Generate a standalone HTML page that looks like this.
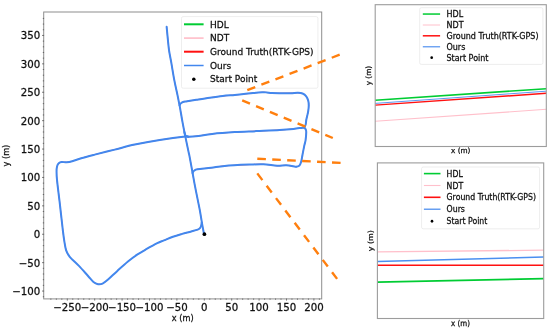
<!DOCTYPE html><html><head><meta charset="utf-8"><title>Trajectory comparison</title>
<style>html,body{margin:0;padding:0;background:#fff}svg{display:block}text{font-family:"DejaVu Sans","Liberation Sans",sans-serif;fill:#111;stroke:#111;stroke-width:0.26px}</style></head><body>
<svg width="550" height="329" viewBox="0 0 550 329">
<rect width="550" height="329" fill="#fff"/>
<g font-size="10.2px" text-anchor="middle">
<text x="67.30" y="310.7">−250</text>
<text x="94.70" y="310.7">−200</text>
<text x="122.10" y="310.7">−150</text>
<text x="149.50" y="310.7">−100</text>
<text x="176.90" y="310.7">−50</text>
<text x="204.30" y="310.7">0</text>
<text x="231.70" y="310.7">50</text>
<text x="259.10" y="310.7">100</text>
<text x="286.50" y="310.7">150</text>
<text x="313.90" y="310.7">200</text>
</g><g font-size="10.2px" text-anchor="end">
<text x="40.3" y="294.95">−100</text>
<text x="40.3" y="266.55">−50</text>
<text x="40.3" y="238.15">0</text>
<text x="40.3" y="209.75">50</text>
<text x="40.3" y="181.35">100</text>
<text x="40.3" y="152.95">150</text>
<text x="40.3" y="124.55">200</text>
<text x="40.3" y="96.15">250</text>
<text x="40.3" y="67.75">300</text>
<text x="40.3" y="39.35">350</text>
</g>
<text x="182.7" y="320.7" font-size="8.2px" text-anchor="middle">x (m)</text>
<text transform="translate(9.3 155.6) rotate(-90)" font-size="8.2px" text-anchor="middle">y (m)</text>
<g fill="none" stroke="#ff1010" stroke-width="0.8" stroke-linejoin="round" stroke-linecap="round" transform="translate(-0.25 0.4)">
<path d="M166.90 26.40 C167.08 28.33 167.60 34.07 168.00 38.00 C168.40 41.93 168.72 46.00 169.30 50.00 C169.88 54.00 170.62 57.00 171.50 62.00 C172.38 67.00 173.55 74.50 174.60 80.00 C175.65 85.50 176.97 90.98 177.80 95.00 C178.63 99.02 179.15 101.82 179.60 104.10 C180.05 106.38 179.97 105.72 180.50 108.70 C181.03 111.68 181.97 117.50 182.80 122.00 C183.63 126.50 184.48 130.70 185.50 135.70 C186.52 140.70 188.22 148.78 188.90 152.00 C189.58 155.22 188.95 151.62 189.60 155.00 C190.25 158.38 191.88 167.30 192.80 172.30 C193.72 177.30 194.22 180.38 195.10 185.00 C195.98 189.62 197.27 195.83 198.10 200.00 C198.93 204.17 199.38 206.05 200.10 210.00 C200.82 213.95 201.72 219.82 202.40 223.70 C203.08 227.58 203.90 231.70 204.20 233.30"/>
<path d="M179.90 105.00 C180.05 104.70 180.23 103.77 180.80 103.20 C181.37 102.63 182.20 101.98 183.30 101.60 C184.40 101.22 185.20 101.27 187.40 100.90 C189.60 100.53 192.73 100.00 196.50 99.40 C200.27 98.80 205.58 97.93 210.00 97.30 C214.42 96.67 218.83 96.05 223.00 95.60 C227.17 95.15 231.48 94.92 235.00 94.60 C238.52 94.28 241.07 94.03 244.10 93.70 C247.13 93.37 250.15 92.90 253.20 92.60 C256.25 92.30 260.12 92.00 262.40 91.90 C264.68 91.80 265.30 91.87 266.90 92.00 C268.50 92.13 269.82 92.56 272.00 92.70 C274.18 92.84 276.85 92.84 280.00 92.85 C283.15 92.86 287.87 92.83 290.90 92.75 C293.93 92.67 296.22 92.34 298.20 92.40 C300.18 92.46 301.42 92.52 302.80 93.10 C304.18 93.68 305.55 94.68 306.50 95.90 C307.45 97.12 308.08 98.88 308.50 100.40 C308.92 101.92 309.00 103.32 309.00 105.00 C309.00 106.68 308.70 109.00 308.50 110.50 C308.30 112.00 308.12 112.57 307.80 114.00 C307.48 115.43 306.90 117.48 306.60 119.10 C306.30 120.72 306.23 122.55 306.00 123.70 C305.77 124.85 305.62 125.42 305.20 126.00 C304.78 126.58 303.78 127.00 303.50 127.20"/>
<path d="M192.80 172.60 C192.85 172.48 192.80 172.32 193.10 171.90 C193.40 171.48 193.82 170.62 194.60 170.10 C195.38 169.58 194.98 169.25 197.80 168.80 C200.62 168.35 206.97 167.95 211.50 167.40 C216.03 166.85 218.58 166.03 225.00 165.50 C231.42 164.97 243.55 164.47 250.00 164.20 C256.45 163.93 259.13 163.70 263.70 163.90 C268.27 164.10 273.60 165.23 277.40 165.40 C281.20 165.57 283.47 164.75 286.50 164.90 C289.53 165.05 293.88 166.07 295.60 166.30 C297.32 166.53 296.13 166.48 296.80 166.30 C297.47 166.12 298.83 166.02 299.60 165.20 C300.37 164.38 300.87 163.25 301.40 161.40 C301.93 159.55 302.27 156.83 302.80 154.10 C303.33 151.37 304.10 147.35 304.60 145.00 C305.10 142.65 305.48 142.18 305.80 140.00 C306.12 137.82 306.47 133.70 306.50 131.90 C306.53 130.10 306.28 129.95 306.00 129.20 C305.72 128.45 305.33 127.72 304.80 127.40 C304.27 127.08 304.65 127.12 302.80 127.30 C300.95 127.48 297.50 128.12 293.70 128.50 C289.90 128.88 286.12 129.23 280.00 129.60 C273.88 129.97 264.50 130.35 257.00 130.70 C249.50 131.05 242.43 131.23 235.00 131.70 C227.57 132.17 218.45 132.87 212.40 133.50 C206.35 134.13 202.65 135.02 198.70 135.50 C194.75 135.98 190.90 136.30 188.70 136.40 C186.50 136.50 190.28 135.57 185.50 136.10 C180.72 136.63 168.42 138.25 160.00 139.60 C151.58 140.95 142.50 142.60 135.00 144.20 C127.50 145.80 121.67 147.53 115.00 149.20 C108.33 150.87 100.58 152.77 95.00 154.20 C89.42 155.63 85.27 156.68 81.50 157.80 C77.73 158.92 74.83 160.22 72.40 160.90 C69.97 161.58 68.65 161.78 66.90 161.90 C65.15 162.02 63.22 161.43 61.90 161.60 C60.58 161.77 59.77 162.17 59.00 162.90 C58.23 163.63 57.67 164.65 57.30 166.00 C56.93 167.35 56.80 168.67 56.80 171.00 C56.80 173.33 56.78 174.87 57.30 180.00 C57.82 185.13 58.93 193.47 59.90 201.80 C60.87 210.13 62.32 223.48 63.10 230.00 C63.88 236.52 64.05 237.57 64.60 240.90 C65.15 244.23 65.50 247.42 66.40 250.00 C67.30 252.58 67.87 253.82 70.00 256.40 C72.13 258.98 76.15 262.30 79.20 265.50 C82.25 268.70 85.88 272.92 88.30 275.60 C90.72 278.28 92.03 280.23 93.70 281.60 C95.37 282.97 96.78 283.53 98.30 283.80 C99.82 284.07 101.13 283.97 102.80 283.20 C104.47 282.43 105.83 281.32 108.30 279.20 C110.77 277.08 114.28 273.52 117.60 270.50 C120.92 267.48 124.90 263.80 128.20 261.10 C131.50 258.40 134.35 256.35 137.40 254.30 C140.45 252.25 143.15 250.73 146.50 248.80 C149.85 246.88 154.57 244.22 157.50 242.75 C160.43 241.28 161.48 241.07 164.10 240.00 C166.72 238.93 170.15 237.38 173.20 236.30 C176.25 235.22 179.35 234.37 182.40 233.50 C185.45 232.63 188.92 231.82 191.50 231.10 C194.08 230.38 196.45 229.77 197.90 229.20 C199.35 228.63 199.62 228.35 200.20 227.70 C200.78 227.05 201.12 226.20 201.40 225.30 C201.68 224.40 201.82 222.80 201.90 222.30"/>
<path d="M184.60 131.50 C184.72 131.97 184.97 133.57 185.30 134.30 C185.63 135.03 186.03 135.55 186.60 135.90 C187.17 136.25 188.35 136.32 188.70 136.40"/>
</g>
<g fill="none" stroke="#4287ee" stroke-width="2.0" stroke-linejoin="round" stroke-linecap="round" transform="translate(-0.25 0.4)">
<path d="M166.90 26.40 C167.08 28.33 167.60 34.07 168.00 38.00 C168.40 41.93 168.72 46.00 169.30 50.00 C169.88 54.00 170.62 57.00 171.50 62.00 C172.38 67.00 173.55 74.50 174.60 80.00 C175.65 85.50 176.97 90.98 177.80 95.00 C178.63 99.02 179.15 101.82 179.60 104.10 C180.05 106.38 179.97 105.72 180.50 108.70 C181.03 111.68 181.97 117.50 182.80 122.00 C183.63 126.50 184.48 130.70 185.50 135.70 C186.52 140.70 188.22 148.78 188.90 152.00 C189.58 155.22 188.95 151.62 189.60 155.00 C190.25 158.38 191.88 167.30 192.80 172.30 C193.72 177.30 194.22 180.38 195.10 185.00 C195.98 189.62 197.27 195.83 198.10 200.00 C198.93 204.17 199.38 206.05 200.10 210.00 C200.82 213.95 201.72 219.82 202.40 223.70 C203.08 227.58 203.90 231.70 204.20 233.30"/>
<path d="M179.90 105.00 C180.05 104.70 180.23 103.77 180.80 103.20 C181.37 102.63 182.20 101.98 183.30 101.60 C184.40 101.22 185.20 101.27 187.40 100.90 C189.60 100.53 192.73 100.00 196.50 99.40 C200.27 98.80 205.58 97.93 210.00 97.30 C214.42 96.67 218.83 96.05 223.00 95.60 C227.17 95.15 231.48 94.92 235.00 94.60 C238.52 94.28 241.07 94.03 244.10 93.70 C247.13 93.37 250.15 92.90 253.20 92.60 C256.25 92.30 260.12 92.00 262.40 91.90 C264.68 91.80 265.30 91.87 266.90 92.00 C268.50 92.13 269.82 92.56 272.00 92.70 C274.18 92.84 276.85 92.84 280.00 92.85 C283.15 92.86 287.87 92.83 290.90 92.75 C293.93 92.67 296.22 92.34 298.20 92.40 C300.18 92.46 301.42 92.52 302.80 93.10 C304.18 93.68 305.55 94.68 306.50 95.90 C307.45 97.12 308.08 98.88 308.50 100.40 C308.92 101.92 309.00 103.32 309.00 105.00 C309.00 106.68 308.70 109.00 308.50 110.50 C308.30 112.00 308.12 112.57 307.80 114.00 C307.48 115.43 306.90 117.48 306.60 119.10 C306.30 120.72 306.23 122.55 306.00 123.70 C305.77 124.85 305.62 125.42 305.20 126.00 C304.78 126.58 303.78 127.00 303.50 127.20"/>
<path d="M192.80 172.60 C192.85 172.48 192.80 172.32 193.10 171.90 C193.40 171.48 193.82 170.62 194.60 170.10 C195.38 169.58 194.98 169.25 197.80 168.80 C200.62 168.35 206.97 167.95 211.50 167.40 C216.03 166.85 218.58 166.03 225.00 165.50 C231.42 164.97 243.55 164.47 250.00 164.20 C256.45 163.93 259.13 163.70 263.70 163.90 C268.27 164.10 273.60 165.23 277.40 165.40 C281.20 165.57 283.47 164.75 286.50 164.90 C289.53 165.05 293.88 166.07 295.60 166.30 C297.32 166.53 296.13 166.48 296.80 166.30 C297.47 166.12 298.83 166.02 299.60 165.20 C300.37 164.38 300.87 163.25 301.40 161.40 C301.93 159.55 302.27 156.83 302.80 154.10 C303.33 151.37 304.10 147.35 304.60 145.00 C305.10 142.65 305.48 142.18 305.80 140.00 C306.12 137.82 306.47 133.70 306.50 131.90 C306.53 130.10 306.28 129.95 306.00 129.20 C305.72 128.45 305.33 127.72 304.80 127.40 C304.27 127.08 304.65 127.12 302.80 127.30 C300.95 127.48 297.50 128.12 293.70 128.50 C289.90 128.88 286.12 129.23 280.00 129.60 C273.88 129.97 264.50 130.35 257.00 130.70 C249.50 131.05 242.43 131.23 235.00 131.70 C227.57 132.17 218.45 132.87 212.40 133.50 C206.35 134.13 202.65 135.02 198.70 135.50 C194.75 135.98 190.90 136.30 188.70 136.40 C186.50 136.50 190.28 135.57 185.50 136.10 C180.72 136.63 168.42 138.25 160.00 139.60 C151.58 140.95 142.50 142.60 135.00 144.20 C127.50 145.80 121.67 147.53 115.00 149.20 C108.33 150.87 100.58 152.77 95.00 154.20 C89.42 155.63 85.27 156.68 81.50 157.80 C77.73 158.92 74.83 160.22 72.40 160.90 C69.97 161.58 68.65 161.78 66.90 161.90 C65.15 162.02 63.22 161.43 61.90 161.60 C60.58 161.77 59.77 162.17 59.00 162.90 C58.23 163.63 57.67 164.65 57.30 166.00 C56.93 167.35 56.80 168.67 56.80 171.00 C56.80 173.33 56.78 174.87 57.30 180.00 C57.82 185.13 58.93 193.47 59.90 201.80 C60.87 210.13 62.32 223.48 63.10 230.00 C63.88 236.52 64.05 237.57 64.60 240.90 C65.15 244.23 65.50 247.42 66.40 250.00 C67.30 252.58 67.87 253.82 70.00 256.40 C72.13 258.98 76.15 262.30 79.20 265.50 C82.25 268.70 85.88 272.92 88.30 275.60 C90.72 278.28 92.03 280.23 93.70 281.60 C95.37 282.97 96.78 283.53 98.30 283.80 C99.82 284.07 101.13 283.97 102.80 283.20 C104.47 282.43 105.83 281.32 108.30 279.20 C110.77 277.08 114.28 273.52 117.60 270.50 C120.92 267.48 124.90 263.80 128.20 261.10 C131.50 258.40 134.35 256.35 137.40 254.30 C140.45 252.25 143.15 250.73 146.50 248.80 C149.85 246.88 154.57 244.22 157.50 242.75 C160.43 241.28 161.48 241.07 164.10 240.00 C166.72 238.93 170.15 237.38 173.20 236.30 C176.25 235.22 179.35 234.37 182.40 233.50 C185.45 232.63 188.92 231.82 191.50 231.10 C194.08 230.38 196.45 229.77 197.90 229.20 C199.35 228.63 199.62 228.35 200.20 227.70 C200.78 227.05 201.12 226.20 201.40 225.30 C201.68 224.40 201.82 222.80 201.90 222.30"/>
<path d="M184.60 131.50 C184.72 131.97 184.97 133.57 185.30 134.30 C185.63 135.03 186.03 135.55 186.60 135.90 C187.17 136.25 188.35 136.32 188.70 136.40"/>
</g>
<circle cx="204.4" cy="234.2" r="1.85" fill="#000"/>
<rect x="43.7" y="12.0" width="278.0" height="286.9" fill="none" stroke="#8e8e8e" stroke-width="1"/>
<path d="M50.86 298.50 v1.3 M56.34 298.50 v1.3 M61.82 298.50 v1.3 M67.30 298.50 v2.1 M72.78 298.50 v1.3 M78.26 298.50 v1.3 M83.74 298.50 v1.3 M89.22 298.50 v1.3 M94.70 298.50 v2.1 M100.18 298.50 v1.3 M105.66 298.50 v1.3 M111.14 298.50 v1.3 M116.62 298.50 v1.3 M122.10 298.50 v2.1 M127.58 298.50 v1.3 M133.06 298.50 v1.3 M138.54 298.50 v1.3 M144.02 298.50 v1.3 M149.50 298.50 v2.1 M154.98 298.50 v1.3 M160.46 298.50 v1.3 M165.94 298.50 v1.3 M171.42 298.50 v1.3 M176.90 298.50 v2.1 M182.38 298.50 v1.3 M187.86 298.50 v1.3 M193.34 298.50 v1.3 M198.82 298.50 v1.3 M204.30 298.50 v2.1 M209.78 298.50 v1.3 M215.26 298.50 v1.3 M220.74 298.50 v1.3 M226.22 298.50 v1.3 M231.70 298.50 v2.1 M237.18 298.50 v1.3 M242.66 298.50 v1.3 M248.14 298.50 v1.3 M253.62 298.50 v1.3 M259.10 298.50 v2.1 M264.58 298.50 v1.3 M270.06 298.50 v1.3 M275.54 298.50 v1.3 M281.02 298.50 v1.3 M286.50 298.50 v2.1 M291.98 298.50 v1.3 M297.46 298.50 v1.3 M302.94 298.50 v1.3 M308.42 298.50 v1.3 M313.90 298.50 v2.1 M319.38 298.50 v1.3 M44.10 296.73 h-1.3 M44.10 291.05 h-2.1 M44.10 285.37 h-1.3 M44.10 279.69 h-1.3 M44.10 274.01 h-1.3 M44.10 268.33 h-1.3 M44.10 262.65 h-2.1 M44.10 256.97 h-1.3 M44.10 251.29 h-1.3 M44.10 245.61 h-1.3 M44.10 239.93 h-1.3 M44.10 234.25 h-2.1 M44.10 228.57 h-1.3 M44.10 222.89 h-1.3 M44.10 217.21 h-1.3 M44.10 211.53 h-1.3 M44.10 205.85 h-2.1 M44.10 200.17 h-1.3 M44.10 194.49 h-1.3 M44.10 188.81 h-1.3 M44.10 183.13 h-1.3 M44.10 177.45 h-2.1 M44.10 171.77 h-1.3 M44.10 166.09 h-1.3 M44.10 160.41 h-1.3 M44.10 154.73 h-1.3 M44.10 149.05 h-2.1 M44.10 143.37 h-1.3 M44.10 137.69 h-1.3 M44.10 132.01 h-1.3 M44.10 126.33 h-1.3 M44.10 120.65 h-2.1 M44.10 114.97 h-1.3 M44.10 109.29 h-1.3 M44.10 103.61 h-1.3 M44.10 97.93 h-1.3 M44.10 92.25 h-2.1 M44.10 86.57 h-1.3 M44.10 80.89 h-1.3 M44.10 75.21 h-1.3 M44.10 69.53 h-1.3 M44.10 63.85 h-2.1 M44.10 58.17 h-1.3 M44.10 52.49 h-1.3 M44.10 46.81 h-1.3 M44.10 41.13 h-1.3 M44.10 35.45 h-2.1 M44.10 29.77 h-1.3 M44.10 24.09 h-1.3 M44.10 18.41 h-1.3" stroke="#4a4a4a" stroke-width="0.7" fill="none"/>
<rect x="181.5" y="16.6" width="136.4" height="71.6" rx="1.6" fill="#fff" fill-opacity="0.8" stroke="#eaeaea" stroke-width="0.8"/>
<path d="M184 24.3 H203.6" stroke="#00cc33" stroke-width="2.0"/>
<text x="210.0" y="27.59" font-size="9.0px">HDL</text>
<path d="M184 38.1 H203.6" stroke="#ffc0cb" stroke-width="1.7"/>
<text x="210.0" y="41.39" font-size="9.0px">NDT</text>
<path d="M184 51.7 H203.6" stroke="#ff1010" stroke-width="2.0"/>
<text x="210.0" y="54.98" font-size="9.0px">Ground Truth(RTK-GPS)</text>
<path d="M184 65.5 H203.6" stroke="#4287ee" stroke-width="1.5"/>
<text x="210.0" y="68.78" font-size="9.0px">Ours</text>
<ellipse cx="193.8" cy="79.2" rx="1.75" ry="1.75" fill="#000"/>
<text x="210.0" y="82.48" font-size="9.0px">Start Point</text>
<g stroke="#ff7f0e" stroke-width="2.4" fill="none">
<path d="M247.3 90.1 L339.7 54.7" stroke-dasharray="8.5 6.57"/><path d="M242.2 100.3 L332.8 138.0" stroke-dasharray="8.4 6.6"/><path d="M257.3 158.7 L340.6 162.9" stroke-dasharray="8.6 6.36"/><path d="M257.3 173.4 L337.1 278.9" stroke-dasharray="8.4 7.09"/>
</g>
<path d="M375.2 121.2 L546.3 109.3" stroke="#ffc0cb" stroke-width="1.1"/>
<path d="M375.2 105.1 L546.3 93.3" stroke="#ff1010" stroke-width="1.4"/>
<path d="M375.2 103.4 L546.3 91.2" stroke="#5a98f2" stroke-width="1.0"/>
<path d="M375.2 100.2 L546.3 88.7" stroke="#00cc33" stroke-width="1.6"/>
<rect x="375.2" y="4.7" width="171.09999999999997" height="141.8" fill="none" stroke="#9c9c9c" stroke-width="1.1"/>
<text transform="translate(460.75 153.15) scale(1 1)" font-size="7.3px" text-anchor="middle">x (m)</text>
<text transform="translate(371.20 75.60) scale(1 1) rotate(-90)" font-size="7.3px" text-anchor="middle">y (m)</text>
<rect x="419.7" y="7.7" width="123.2" height="56.7" rx="1.6" fill="#fff" fill-opacity="0.8" stroke="#e8e8e8" stroke-width="0.8"/>
<path d="M422.8 14.05 H440.1" stroke="#00cc33" stroke-width="1.5"/>
<text x="446.5" y="16.97" font-size="8.0px">HDL</text>
<path d="M422.8 25 H440.1" stroke="#ffc0cb" stroke-width="1.0"/>
<text x="446.5" y="27.92" font-size="8.0px">NDT</text>
<path d="M422.8 35.8 H440.1" stroke="#ff1010" stroke-width="1.5"/>
<text x="446.5" y="38.72" font-size="8.0px">Ground Truth(RTK-GPS)</text>
<path d="M422.8 46.8 H440.1" stroke="#4287ee" stroke-width="1.1"/>
<text x="446.5" y="49.72" font-size="8.0px">Ours</text>
<ellipse cx="431.7" cy="57.7" rx="1.35" ry="1.35" fill="#000"/>
<text x="446.5" y="60.62" font-size="8.0px">Start Point</text>
<path d="M377.4 251.8 L543.7 250.2" stroke="#ffc0cb" stroke-width="1.3"/>
<path d="M377.4 265.2 L543.7 265.2" stroke="#ff1010" stroke-width="1.5"/>
<path d="M377.4 261.4 L543.7 257.1" stroke="#4a8ff0" stroke-width="1.5"/>
<path d="M377.4 282.2 L543.7 278.7" stroke="#00cc33" stroke-width="1.8"/>
<rect x="377.4" y="162.9" width="166.30000000000007" height="155.6" fill="none" stroke="#9c9c9c" stroke-width="1.1"/>
<text transform="translate(460.55 325.60) scale(0.972 1.09)" font-size="7.3px" text-anchor="middle">x (m)</text>
<text transform="translate(373.40 240.70) scale(0.972 1.09) rotate(-90)" font-size="7.3px" text-anchor="middle">y (m)</text>
<rect x="421.6" y="167.0" width="118" height="61.8" rx="1.6" fill="#fff" fill-opacity="0.8" stroke="#e8e8e8" stroke-width="0.8"/>
<path d="M423.9 173.6 H440.5" stroke="#00cc33" stroke-width="1.6"/>
<text transform="translate(446.6 176.78) scale(0.972 1.09)" font-size="8.0px">HDL</text>
<path d="M423.9 185.5 H440.5" stroke="#ffc0cb" stroke-width="1.1"/>
<text transform="translate(446.6 188.68) scale(0.972 1.09)" font-size="8.0px">NDT</text>
<path d="M423.9 197.3 H440.5" stroke="#ff1010" stroke-width="1.6"/>
<text transform="translate(446.6 200.48) scale(0.972 1.09)" font-size="8.0px">Ground Truth(RTK-GPS)</text>
<path d="M423.9 209.2 H440.5" stroke="#4287ee" stroke-width="1.2"/>
<text transform="translate(446.6 212.38) scale(0.972 1.09)" font-size="8.0px">Ours</text>
<ellipse cx="432" cy="221.2" rx="1.31" ry="1.47" fill="#000"/>
<text transform="translate(446.6 224.38) scale(0.972 1.09)" font-size="8.0px">Start Point</text>
</svg></body></html>
